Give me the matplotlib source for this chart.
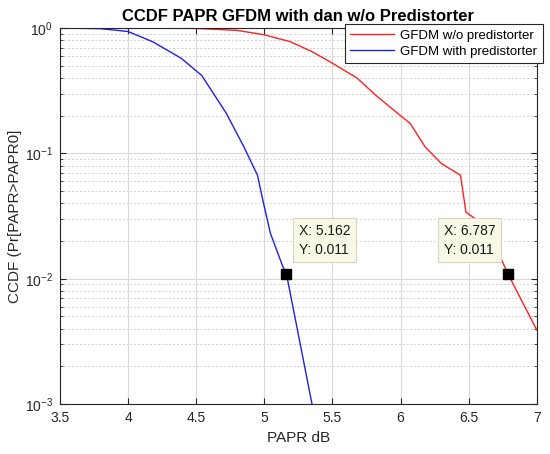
import matplotlib.pyplot as plt
import numpy as np

plt.rcParams['font.family'] = ['Liberation Sans', 'DejaVu Sans']

# PAPR (dB) and CCDF values
papr_without = [4.0, 4.5, 4.8, 5.0, 5.19, 5.35, 5.5, 5.68, 5.82, 6.0, 6.07, 6.18,
                6.3, 6.44, 6.48, 6.57, 6.67, 6.787, 7.0]
ccdf_without = [1.0, 0.995, 0.96, 0.885, 0.78, 0.65, 0.525, 0.4, 0.29, 0.2, 0.174,
                0.113, 0.083, 0.067, 0.034, 0.029, 0.021, 0.011, 0.0039]

papr_with = [3.56, 3.8, 4.0, 4.18, 4.39, 4.54, 4.72, 4.85, 4.95, 4.99, 5.045,
             5.136, 5.162, 5.35]
ccdf_with = [1.0, 0.99, 0.94, 0.78, 0.575, 0.42, 0.21, 0.113, 0.067, 0.042, 0.023,
             0.0125, 0.011, 0.001]

tip_x = [5.162, 6.787]
tip_y = [0.011, 0.011]

fig = plt.figure(figsize=(5.5, 4.54), dpi=100)
ax = fig.add_axes([0.109, 0.110, 0.867, 0.828])

ax.semilogy(papr_without, ccdf_without, color='#ff2020', lw=1.0, label='GFDM w/o predistorter')
ax.semilogy(papr_with, ccdf_with, color='#2020e0', lw=1.0, label='GFDM with predistorter')

# data tips: first to the right of its point, second to the left
ax.plot(tip_x, tip_y, 's', color='black', ms=7, zorder=5)
tip_offsets = [((9, 12), 'left'), ((-9, 12), 'right')]
for tx, ty, (off, ha) in zip(tip_x, tip_y, tip_offsets):
    ax.annotate(f'X: {tx:.3f}\nY: {ty:.3f}', xy=(tx, ty), xytext=off,
                textcoords='offset points', fontsize=10, va='bottom', ha=ha,
                multialignment='left', linespacing=1.45, color='#1a1a1a',
                bbox=dict(boxstyle='square,pad=0.4', fc='#f8f8e6', ec='#d6d6c0', lw=0.8))

ax.set_xlim(3.5, 7)
ax.set_ylim(1e-3, 1)
ax.set_xticks(np.arange(3.5, 7.01, 0.5))
ax.set_xticklabels(['3.5', '4', '4.5', '5', '5.5', '6', '6.5', '7'])

ax.grid(True, which='major', color='#d9d9d9', lw=0.8, ls='-')
ax.grid(True, which='minor', axis='y', color='#d0d0d0', lw=0.7, ls=(0, (2, 2)))
ax.set_axisbelow(True)
ax.tick_params(which='both', direction='in', top=True, right=True, labelsize=10,
               colors='#262626')
ax.tick_params(which='major', length=4, pad=5)
ax.tick_params(which='minor', length=2)
for s in ax.spines.values():
    s.set_color('#262626')
    s.set_linewidth(0.8)

ax.set_title('CCDF PAPR GFDM with dan w/o Predistorter', fontsize=12,
             fontweight='bold', pad=5)
ax.set_xlabel('PAPR dB', fontsize=11, color='#262626')
ax.set_ylabel('CCDF (Pr[PAPR>PAPR0]', fontsize=11, color='#262626', labelpad=2)

leg = ax.legend(loc='upper right', bbox_to_anchor=(1.012, 1.01), fontsize=9.5,
                frameon=True, fancybox=False, edgecolor='#262626', borderaxespad=0,
                handlelength=3.3, handletextpad=0.5, labelspacing=0.3, borderpad=0.4)
leg.get_frame().set_linewidth(0.8)
leg.get_frame().set_alpha(1)

fig.savefig('out.png', dpi=100)
